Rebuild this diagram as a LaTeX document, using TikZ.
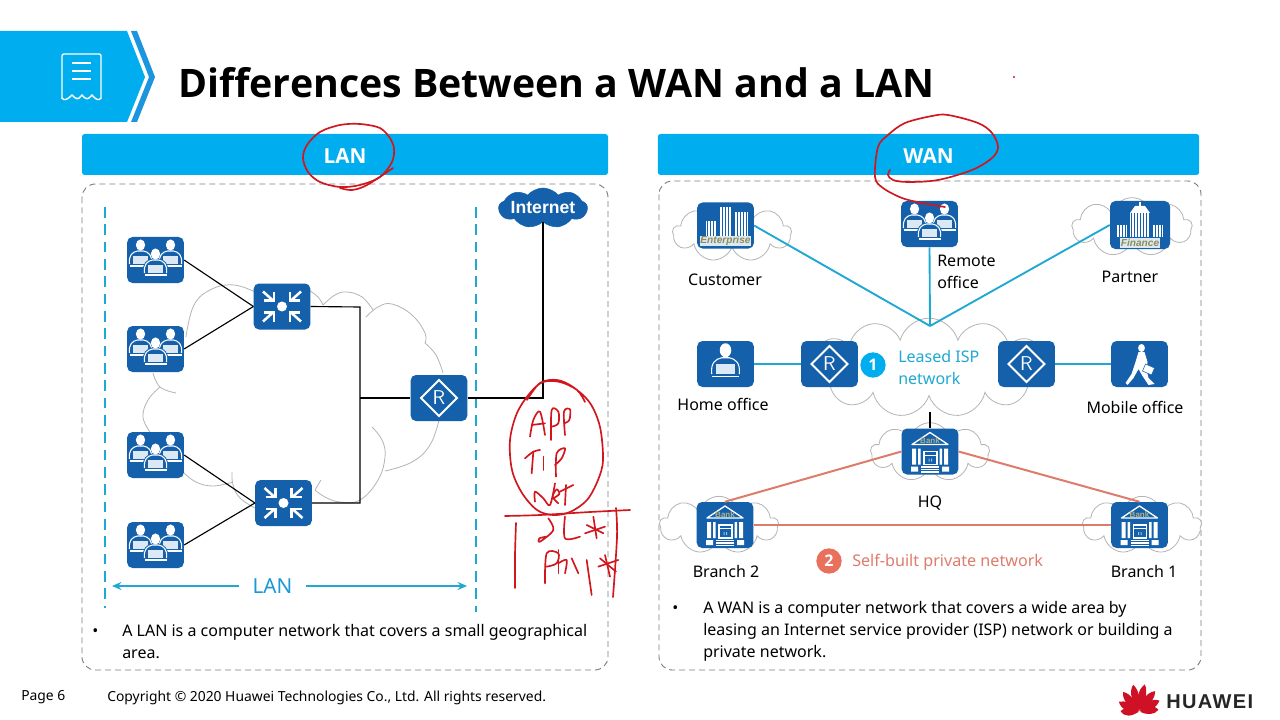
\documentclass[tikz,border=0pt]{standalone}
\usepackage{fontspec}
\usetikzlibrary{shapes.symbols,arrows.meta}
\setmainfont{Noto Sans}
\newfontfamily\boldsans{Open Sans}
\newfontfamily\logofont[LetterSpace=7]{Liberation Sans}
\newfontfamily\tagfont{Liberation Sans}
\definecolor{topblue}{HTML}{00AEEF}
\definecolor{chevblue}{HTML}{1B96DE}
\definecolor{iconblue}{HTML}{1460AA}
\definecolor{iconlight}{HTML}{DCE8F4}
\definecolor{wanline}{HTML}{1FA9D2}
\definecolor{privline}{HTML}{DE7C6C}
\definecolor{privdot}{HTML}{E8705C}
\definecolor{inkred}{HTML}{D2161E}
\definecolor{cloudgray}{HTML}{B4B4B4}
\definecolor{dashgray}{HTML}{7F7F7F}
\definecolor{tagolive}{HTML}{8E8E55}
\definecolor{hwred}{HTML}{CF1126}
\tikzset{
  iconbox/.style={fill=iconblue,draw=none,rounded corners=4pt,minimum width=42.5pt,minimum height=34.5pt,inner sep=0pt},
  routerbox/.style={iconbox,text=white,font=\fontsize{15}{15}\selectfont\sffamily},
  barbox/.style={fill=topblue,rounded corners=2pt,minimum height=30.75pt,inner sep=0pt,text=white,text height=13pt,text depth=0pt,font=\boldsans\fontsize{15.5}{16}\selectfont\bfseries},
  dashbox/.style={draw=dashgray,dashed,dash pattern=on 4.5pt off 3pt,line width=.7pt,rounded corners=10pt},
  cyandash/.style={draw=wanline,line width=1pt,dash pattern=on 8pt off 5pt},
  netcloud/.style={cloud,draw=cloudgray,line width=.6pt,fill=white,inner sep=0pt,cloud ignores aspect},
  lanline/.style={draw=black,line width=.85pt},
  wanlink/.style={draw=wanline,line width=1.4pt},
  privlink/.style={draw=privline,line width=1.5pt},
  cloudarc/.style={draw=cloudgray,line width=.6pt},
  ink/.style={draw=inkred,line width=1.25pt,line cap=round,line join=round},
  lbl/.style={font=\fontsize{12}{16.5}\selectfont,inner sep=0pt,align=left},
  num/.style={circle,minimum size=19pt,inner sep=0pt,text=white,font=\boldsans\fontsize{12}{12}\selectfont\bfseries},
  whiteln/.style={draw=white,line width=.8pt},
}
\newcommand\inkcurve[1]{\draw[ink] plot[smooth,tension=.55] coordinates {#1};}
\newcommand\arcline[1]{\draw[cloudarc] plot[smooth,tension=.7] coordinates {#1};}
\newcommand\personfig[2]{%
  \begin{scope}[shift={(#1,#2)}]
    \draw[iconblue,line width=2.2pt] (-11,19) .. controls (-12,10) and (-8,7) .. (-3,6) -- (3,6) .. controls (8,7) and (12,10) .. (11,19);
    \fill[white] (0,0) ellipse [x radius=4.6,y radius=5.6];
    \draw[whiteln,fill=iconblue] (-11,19) .. controls (-12,10) and (-8,7) .. (-3,6) -- (3,6) .. controls (8,7) and (12,10) .. (11,19);
    \fill[iconlight] (-7.5,11) rectangle (7.5,19);
    \draw[whiteln] (-11,21) -- (11,21);
  \end{scope}}
\newcommand\peopleicon[3]{%
  \node[iconbox] (#1) at (#2,#3) {};
  \begin{scope}[shift={(#2,#3)}]
    \personfig{-15}{-15}\personfig{15}{-15}\personfig{0}{-6}
  \end{scope}}
\newcommand\switchicon[3]{%
  \node[iconbox] (#1) at (#2,#3) {};
  \begin{scope}[shift={(#2,#3)}]
    \fill[white] (0,0) circle [radius=5];
    \foreach \sx/\sy in {-1/-1,1/-1,-1/1,1/1}{
      \draw[white,line width=1.9pt] (\sx*19,\sy*15) -- (\sx*9,\sy*6);
      \draw[white,line width=1.9pt] (\sx*18,\sy*6) -- (\sx*8,\sy*6) -- (\sx*8,\sy*15);
    }
  \end{scope}}
\newcommand\routericon[3]{%
  \node[routerbox] (#1) at (#2,#3) {R};
  \draw[white,line width=1.5pt] (#2-18,#3) -- (#2,#3-18) -- (#2+18,#3) -- (#2,#3+18) -- cycle;}
\newcommand\towerblock[4]{%
  \fill[white] (#1,#2) rectangle (#3,#4);
  \draw[iconblue,line width=.25pt,step=3] (#1,#2) grid (#3,#4);}
\newcommand\enterpriseicon[3]{%
  \node[iconbox] (#1) at (#2,#3) {};
  \begin{scope}[shift={(#2,#3)}]
    \towerblock{-20}{-4}{-9}{11}\towerblock{-7}{-18}{5}{11}\towerblock{9}{-13}{22}{11}
    \node[fill=iconlight,inner sep=0pt,minimum width=38pt,minimum height=7pt,text=tagolive,font=\tagfont\fontsize{7.6}{8}\selectfont\bfseries\itshape] (#1tag) at (0,15.5) {Enterprise};
  \end{scope}}
\newcommand\financeicon[3]{%
  \node[iconbox,minimum width=45pt,minimum height=36pt] (#1) at (#2,#3) {};
  \begin{scope}[shift={(#2,#3)}]
    \draw[white,line width=1pt] (0,-23) -- (0,-16);
    \fill[white] (-5,-19) -- (5,-19) -- (10,-12) -- (-10,-12) -- cycle;
    \towerblock{-10}{-12}{10}{12}\towerblock{-23}{0}{-13}{12}\towerblock{13}{0}{23}{12}
    \node[fill=iconlight,inner sep=0pt,minimum width=30pt,minimum height=7pt,text=tagolive,font=\tagfont\fontsize{7.6}{8}\selectfont\bfseries\itshape] (#1tag) at (0,18) {Finance};
  \end{scope}}
\newcommand\homeicon[3]{%
  \node[iconbox] (#1) at (#2,#3) {};
  \begin{scope}[shift={(#2,#3)},scale=1.25]
    \personfig{0}{-11}
  \end{scope}}
\newcommand\walkicon[3]{%
  \node[iconbox] (#1) at (#2,#3) {};
  \begin{scope}[shift={(#2,#3)}]
    \fill[white] (2,-16) ellipse [x radius=3.4,y radius=4];
    \fill[white] (-1,-12) -- (5,-12) -- (8,-2) -- (7,6) -- (9,14) -- (15,20) -- (9,21) -- (3,12) -- (-1,5) -- (-6,14) -- (-12,21) -- (-14,19) -- (-8,10) -- (-4,-2) -- cycle;
    \draw[iconblue,line width=.4pt,fill=white] (6,0) -- (15,4) -- (12,11) -- (3,7) -- cycle;
  \end{scope}}
\newcommand\bankicon[3]{%
  \node[iconbox] (#1) at (#2,#3) {};
  \begin{scope}[shift={(#2,#3)}]
    \draw[white,line width=1pt,line join=round] (-18,-7) -- (0,-19) -- (18,-7) -- cycle;
    \node[inner sep=0pt,text=tagolive!70!white,font=\tagfont\fontsize{6}{6}\selectfont\bfseries] (#1tag) at (0,-10.5) {Bank};
    \fill[white] (-18,-3) rectangle (-14,13) (14,-3) rectangle (18,13) (-12,-3) rectangle (-9.5,13) (9.5,-3) rectangle (12,13);
    \draw[white,line width=1.1pt,fill=iconblue] (-6,0) rectangle (7,13);
    \fill[white] (-6,3) rectangle (7,4.4);
    \fill[iconblue!40!white] (-1.5,7) rectangle (-.4,10) (1,7) rectangle (2.1,10);
    \fill[white] (-19,15) rectangle (-12,20) (12,15) rectangle (19,20);
    \draw[whiteln] (-9,15.5) -- (9,15.5) (-9,18) -- (9,18) (-9,20.5) -- (9,20.5);
  \end{scope}}
\newcommand\petal[2]{\fill[hwred,rotate=#1] (0,-1) .. controls (-5,-#2*.4) and (-7,-#2*.75) .. (-.6,-#2) .. controls (4,-#2*.8) and (4,-#2*.4) .. (0,-1) -- cycle;}
\begin{document}
\begin{tikzpicture}[x=.75pt,y=-.75pt]
\useasboundingbox (0,0) rectangle (1280,720);
\fill[white] (0,0) rectangle (1280,720);
% header badge
\fill[topblue] (0,31) -- (127,31) -- (145,77) -- (127,122) -- (0,122) -- cycle;
\fill[chevblue] (131,31) -- (137,31) -- (155,77) -- (137,122) -- (131,122) -- (149,77) -- cycle;
\draw[white,line width=1.1pt,line join=round,rounded corners=1.5pt] (62,99) -- (62,54) -- (101,54) -- (101,99);
\draw[white,line width=1.1pt,line join=round] (62,98) .. controls (64,101) and (67,100) .. (72,95) .. controls (77,100) and (78,100) .. (82,95) .. controls (86,100) and (88,100) .. (92,95) .. controls (96,100) and (99,101) .. (101,98);
\draw[white,line width=1.1pt] (72,63) -- (91,63) (72,71) -- (91,71) (72,79) -- (91,79);
\node[anchor=base west,inner sep=0pt,font=\boldsans\fontsize{29.47}{36}\selectfont\bfseries] (title) at (178,98) {Differences Between a WAN and a LAN};
% bars and boxes
\node[barbox,minimum width=394.5pt] (lanbar) at (345,154.5) {LAN};
\node[barbox,minimum width=406pt] (wanbar) at (928.5,154.5) {WAN};
\draw[dashbox] (82,184) rectangle (608,670);
\draw[dashbox] (659,181) rectangle (1201,670);
% LAN cloud
\arcline{(186,337) (194,305) (212,289) (234,285) (255,292)}
\arcline{(310,291) (318,297) (323,305)}
\arcline{(323,305) (335,295) (347,292) (362,297) (373,310)}
\arcline{(366,317) (378,307) (392,304) (412,315) (425,333) (425,343)}
\arcline{(425,343) (436,355) (443,373)}
\arcline{(439,420) (430,445) (412,462) (385,471)}
\arcline{(372,427) (382,440) (385,457) (378,480) (360,500) (340,502) (325,497) (315,490)}
\arcline{(321,480) (315,490)}
\arcline{(183,472) (196,482) (213,486) (233,482)}
\arcline{(232,472) (233,485) (240,498) (255,508)}
\arcline{(153,373) (160,387) (176,393)}
\arcline{(160,387) (148,400) (143,417) (150,432)}
% LAN frame lines
\coordinate (lantl) at (105,207); \coordinate (lanbl) at (105,608);
\coordinate (lantr) at (476,207); \coordinate (lanbr) at (476,612);
\draw[cyandash] (lantl) -- (lanbl);
\draw[cyandash] (lantr) -- (lanbr);
% LAN nodes
\peopleicon{p1}{155.5}{260}
\peopleicon{p2}{155.5}{349}
\peopleicon{p3}{155.5}{455}
\peopleicon{p4}{155.5}{545}
\switchicon{s1}{282}{306.5}
\switchicon{s2}{283.5}{503}
\routericon{lanr}{439}{398}
\node[cloud,cloud puffs=9,cloud puff arc=100,fill=iconblue,draw=iconblue,inner sep=0pt,minimum width=62pt,minimum height=30pt,text=white,font=\tagfont\fontsize{13.2}{14}\selectfont\bfseries,cloud ignores aspect] (internet) at (543,208) {Internet};
\coordinate (jt) at (360,307); \coordinate (jb) at (360,503); \coordinate (jm) at (360,398); \coordinate (jr) at (543,398);
\draw[lanline] (p1.east) -- (s1.west);
\draw[lanline] (p2.east) -- (s1.west);
\draw[lanline] (p3.east) -- (s2.west);
\draw[lanline] (p4.east) -- (s2.west);
\draw[lanline] (s1.east) -- (jt) -- (jb) -- (s2.east);
\draw[lanline] (jm) -- (lanr.west);
\draw[lanline] (lanr.east) -- (jr) -- (internet.south);
\node[inner sep=0pt,minimum width=50pt,text=wanline!90!blue,font=\fontsize{15.5}{16}\selectfont] (lanlabel) at (272.5,586) {LAN};
\coordinate (lanl) at (112,586); \coordinate (lanrr) at (467,586);
\draw[draw=wanline,line width=1.1pt,-{Stealth[length=7pt,width=6pt]}] (lanlabel.west) -- (lanl);
\draw[draw=wanline,line width=1.1pt,-{Stealth[length=7pt,width=6pt]}] (lanlabel.east) -- (lanrr);
\node[lbl,anchor=west] (lanbul) at (92,633) {•};
\node[lbl,anchor=north west] (lantxt) at (122,624) {A LAN is a computer network that covers a small geographical\\area.};
% WAN clouds
\node[netcloud,cloud puffs=9,minimum width=89pt,minimum height=43pt] (cl1) at (732,233) {};
\node[netcloud,cloud puffs=9,minimum width=90pt,minimum height=44pt] (cl2) at (1132,227) {};
\node[netcloud,cloud puffs=13,minimum width=183pt,minimum height=74pt] (isp) at (929,367.5) {};
\node[netcloud,cloud puffs=9,minimum width=89pt,minimum height=44pt] (cl3) at (930,452) {};
\node[netcloud,cloud puffs=9,minimum width=89pt,minimum height=43pt] (cl4) at (719,525) {};
\node[netcloud,cloud puffs=9,minimum width=89pt,minimum height=43pt] (cl5) at (1142,525) {};
% WAN nodes
\enterpriseicon{ent}{725.5}{225.5}
\peopleicon{rem}{929.5}{224}
\financeicon{fin}{1140}{225}
\homeicon{home}{725.5}{364}
\routericon{r1}{829.5}{364}
\routericon{r2}{1026.5}{364}
\walkicon{mob}{1139.5}{364}
\bankicon{hq}{930}{451.5}
\bankicon{b2}{725}{525}
\bankicon{b1}{1139.5}{525}
\coordinate (isptop) at (930,326); \coordinate (ispbot) at (930,412);
\draw[wanlink] (ent.east) -- (isptop);
\draw[wanlink] (rem.south) -- (isptop);
\draw[wanlink] (fin.west) -- (isptop);
\draw[wanlink] (home.east) -- (r1.west);
\draw[wanlink] (r2.east) -- (mob.west);
\draw[lanline,line width=1pt] (ispbot) -- (hq.north);
\draw[privlink] (hq.west) -- (b2.north);
\draw[privlink] (hq.east) -- (b1.north);
\draw[privlink] (b2.east) -- (b1.west);
\node[num,fill=topblue] (n1) at (873,365) {1};
\node[lbl,anchor=west,text=wanline,font=\fontsize{12}{17}\selectfont] (leased) at (898,367.5) {Leased ISP\\network};
\node[num,fill=privdot] (n2) at (829,561) {2};
\node[lbl,anchor=west,text=privline,font=\fontsize{12.1}{16.5}\selectfont] (selfb) at (852,562) {Self-built private network};
\node[lbl] (customer) at (725,280) {Customer};
\node[lbl,anchor=west] (remote) at (937,272) {Remote\\office};
\node[lbl] (partner) at (1130,277) {Partner};
\node[lbl] (homeoff) at (723,404) {Home office};
\node[lbl] (mobile) at (1135,407) {Mobile office};
\node[lbl] (hqt) at (930,503) {HQ};
\node[lbl] (br2) at (726,571) {Branch 2};
\node[lbl] (br1) at (1144,571) {Branch 1};
\node[lbl,anchor=west] (wanbul) at (672,610) {•};
\node[lbl,anchor=north west] (wantxt) at (703,601) {A WAN is a computer network that covers a wide area by\\leasing an Internet service provider (ISP) network or building a\\private network.};
% footer
\node[anchor=west,inner sep=0pt,font=\fontsize{10.4}{12}\selectfont] (page) at (21,697.5) {Page 6};
\node[anchor=west,inner sep=0pt,font=\fontsize{10.4}{12}\selectfont] (copy) at (107,697.5) {Copyright © 2020 Huawei Technologies Co., Ltd. All rights reserved.};
\begin{scope}[shift={(1139.5,712)}]
  \petal{12}{28}\petal{-12}{28}
  \petal{38}{26}\petal{-38}{26}
  \petal{62}{23}\petal{-62}{23}
  \petal{85}{19}\petal{-85}{19}
\end{scope}
\node[anchor=base west,inner sep=0pt,text=black!85,font=\logofont\fontsize{15}{16}\selectfont\bfseries] (hw) at (1166,708) {HUAWEI};
% annotations
\fill[inkred] (1014,77) circle [radius=1.2];
\inkcurve{(390,138) (380,128) (360,124) (340,125) (320,132) (307,145) (303,158) (308,172) (320,182) (340,187) (360,185) (380,177) (392,162) (394,148) (390,138)}
\inkcurve{(340,188) (352,190) (367,185) (393,168)}
\inkcurve{(890,170) (888,175) (893,180) (908,182) (938,180) (972,170) (992,158) (998,147) (992,133) (978,123) (948,115) (932,116) (905,123) (888,135) (878,147) (875,177) (883,188) (902,198) (922,203) (945,207)}
\inkcurve{(585,402) (577,390) (560,382) (543,382) (530,393) (517,413) (510,440) (512,470) (522,493) (537,510) (553,515) (570,512) (587,500) (598,480) (603,460) (600,427) (590,403) (573,387) (557,380) (540,383) (527,400)}
\inkcurve{(505,516) (540,515) (590,512) (630,510)}
\inkcurve{(516,523) (515,555) (515,588)}
\inkcurve{(616,508) (617,537) (613,597)}
\begin{scope}[shift={(490,370)},scale=.3333]
  \inkcurve{(120,200) (130,150) (150,125) (165,195)}
  \inkcurve{(125,165) (165,160)}
  \inkcurve{(183,210) (185,120) (205,125) (205,160) (185,170)}
  \inkcurve{(225,195) (222,125) (240,118) (238,150) (222,160)}
  \inkcurve{(105,265) (130,245) (150,240)}
  \inkcurve{(130,245) (125,310)}
  \inkcurve{(160,260) (160,300)}
  \inkcurve{(198,320) (200,250) (225,235) (215,265) (195,285)}
  \inkcurve{(135,395) (135,365) (160,385) (180,405) (195,340)}
  \inkcurve{(190,385) (208,372) (200,358) (188,380) (205,400)}
  \inkcurve{(225,405) (228,345)}
  \inkcurve{(210,365) (250,345)}
  \inkcurve{(175,445) (190,480) (150,515) (148,505) (170,500)}
  \inkcurve{(225,440) (225,505) (270,500)}
  \inkcurve{(285,490) (345,470)}
  \inkcurve{(310,440) (320,505)}
  \inkcurve{(290,465) (340,490)}
  \inkcurve{(165,640) (170,550) (205,550) (200,580) (170,590)}
  \inkcurve{(205,540) (205,610)}
  \inkcurve{(205,580) (230,570) (225,610)}
  \inkcurve{(245,565) (265,610)}
  \inkcurve{(290,570) (305,675)}
  \inkcurve{(325,590) (385,570)}
  \inkcurve{(345,555) (360,620)}
  \inkcurve{(330,565) (378,605)}
\end{scope}
\end{tikzpicture}
\end{document}
